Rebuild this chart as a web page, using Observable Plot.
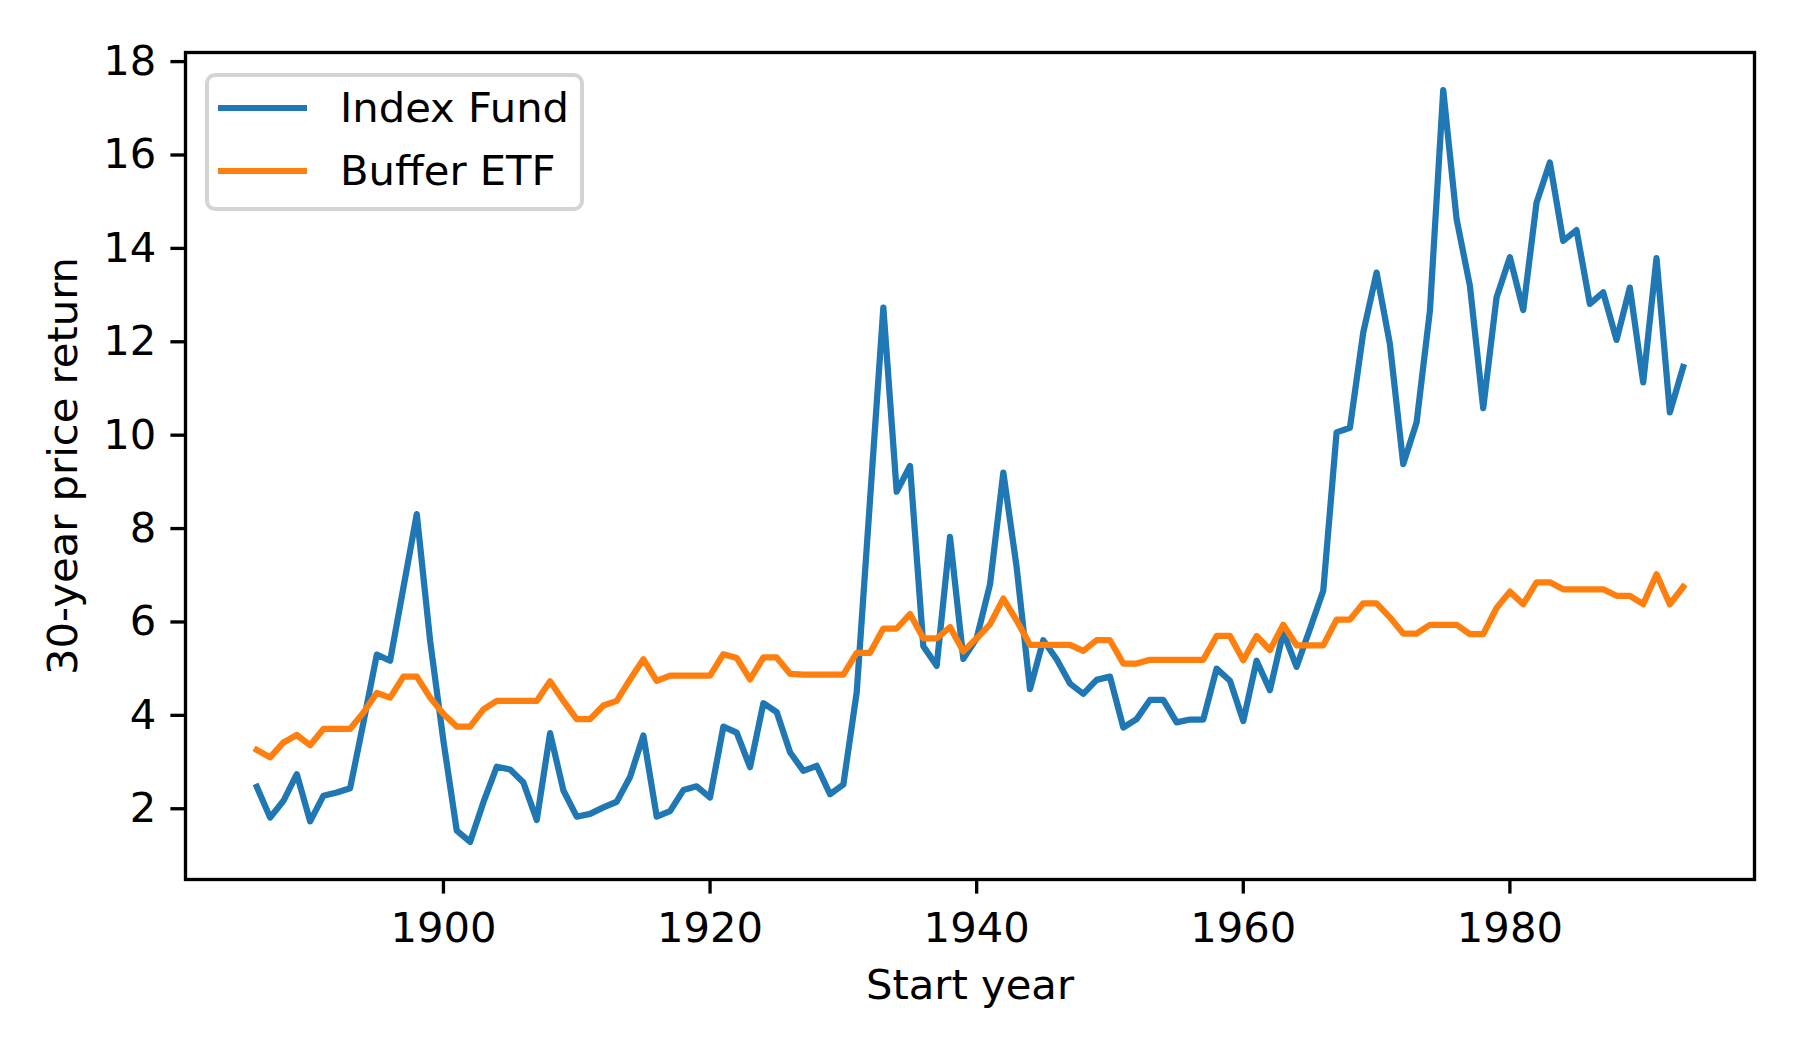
<!DOCTYPE html>
<html>
<head>
<meta charset="utf-8">
<script src="https://cdn.jsdelivr.net/npm/d3@7"></script>
<script src="https://cdn.jsdelivr.net/npm/@observablehq/plot@0.6"></script>
<style>
  html, body { margin: 0; padding: 0; background: white; }
  #wrap { position: relative; width: 1800px; height: 1050px; font-family: "DejaVu Sans", sans-serif; }
  #legend { position: absolute; left: 205px; top: 73px; width: 379px; height: 138px; box-sizing: border-box;
            border: 4px solid rgba(204,204,204,0.85); border-radius: 10px; background: rgba(255,255,255,0.8); }
  .row { position: absolute; left: 0; height: 50px; line-height: 50px; font-size: 41.7px; color: black; white-space: nowrap; }
  .sw { position: absolute; width: 89px; height: 6.25px; }
</style>
</head>
<body>
<div id="wrap"></div>
<script>
const startYear = 1886;
const endYear = 1993;
const years = d3.range(startYear, endYear + 1);
const seriesNames = ["Index Fund", "Buffer ETF"];
const seriesColors = ["#1f77b4", "#ff7f0e"];
const xTicks = [1900, 1920, 1940, 1960, 1980];
const yTicks = [2, 4, 6, 8, 10, 12, 14, 16, 18];
const xLabel = "Start year";
const yLabel = "30-year price return";

const indexFund = [
  2.47, 1.81, 2.17, 2.74, 1.73, 2.28, 2.35, 2.44, 3.85, 5.30,
  5.17, 6.74, 8.31, 5.60, 3.45, 1.53, 1.29, 2.14, 2.90, 2.84,
  2.56, 1.76, 3.62, 2.39, 1.83, 1.89, 2.03, 2.15, 2.68, 3.57,
  1.83, 1.95, 2.40, 2.48, 2.24, 3.76, 3.63, 2.89, 4.26, 4.07,
  3.21, 2.81, 2.92, 2.31, 2.52, 4.49, 8.61, 12.73, 8.79, 9.34,
  5.48, 5.06, 7.82, 5.21, 5.65, 6.80, 9.20, 7.17, 4.56, 5.61,
  5.20, 4.68, 4.46, 4.76, 4.83, 3.74, 3.92, 4.33, 4.33, 3.85,
  3.91, 3.91, 5.00, 4.74, 3.88, 5.17, 4.54, 5.78, 5.04, 5.85,
  6.67, 10.06, 10.16, 12.20, 13.48, 11.95, 9.38, 10.27, 12.66, 17.39,
  14.63, 13.20, 10.58, 12.95, 13.81, 12.68, 14.98, 15.84, 14.16, 14.39,
  12.81, 13.06, 12.04, 13.16, 11.13, 13.79, 10.49, 11.46
];
const bufferETF = [
  3.26, 3.10, 3.42, 3.58, 3.36, 3.71, 3.71, 3.71, 4.06, 4.48,
  4.38, 4.83, 4.83, 4.38, 4.03, 3.76, 3.76, 4.13, 4.31, 4.31,
  4.31, 4.31, 4.73, 4.31, 3.92, 3.92, 4.21, 4.31, 4.77, 5.20,
  4.74, 4.85, 4.85, 4.85, 4.85, 5.31, 5.23, 4.77, 5.24, 5.24,
  4.89, 4.87, 4.87, 4.87, 4.87, 5.34, 5.34, 5.86, 5.86, 6.17,
  5.65, 5.65, 5.89, 5.37, 5.65, 5.95, 6.50, 6.03, 5.51, 5.51,
  5.51, 5.51, 5.38, 5.61, 5.61, 5.11, 5.11, 5.19, 5.19, 5.19,
  5.19, 5.19, 5.70, 5.70, 5.18, 5.70, 5.40, 5.94, 5.50, 5.50,
  5.50, 6.05, 6.05, 6.40, 6.40, 6.10, 5.75, 5.75, 5.94, 5.94,
  5.94, 5.74, 5.74, 6.30, 6.65, 6.38, 6.85, 6.85, 6.70, 6.70,
  6.70, 6.70, 6.56, 6.56, 6.38, 7.02, 6.38, 6.75
];

const indexRows = years.map((year, i) => ({year, value: indexFund[i], series: seriesNames[0]}));
const bufferRows = years.map((year, i) => ({year, value: bufferETF[i], series: seriesNames[1]}));

// matplotlib-style 5% margins around the data range
const allVals = indexFund.concat(bufferETF);
const yMin = d3.min(allVals), yMax = d3.max(allVals);
const yPad = (yMax - yMin) * 0.05;
const xPad = (endYear - startYear) * 0.05;

const chart = Plot.plot({
  width: 1800,
  height: 1050,
  marginLeft: 185,
  marginRight: 46,
  marginTop: 52,
  marginBottom: 171,
  style: {fontFamily: "DejaVu Sans, sans-serif", fontSize: "41.7px", color: "black", background: "white", overflow: "visible"},
  x: {domain: [startYear - xPad, endYear + xPad]},
  y: {domain: [yMin - yPad, yMax + yPad]},
  marks: [
    Plot.line(indexRows, {x: "year", y: "value", stroke: seriesColors[0], strokeWidth: 6.25, strokeLinejoin: "round", strokeLinecap: "square"}),
    Plot.line(bufferRows, {x: "year", y: "value", stroke: seriesColors[1], strokeWidth: 6.25, strokeLinejoin: "round", strokeLinecap: "square"}),
    Plot.frame({stroke: "black", strokeWidth: 3.33}),
    Plot.axisX({ticks: xTicks, tickFormat: d => String(d), tickSize: 14.6, tickPadding: 18, strokeWidth: 3.33, label: null, fontSize: 41.7}),
    Plot.axisY({ticks: yTicks, tickFormat: d => String(d), tickSize: 14.6, tickPadding: 14.6, strokeWidth: 3.33, label: null, fontSize: 41.7}),
    Plot.text([xLabel], {text: d => d, frameAnchor: "bottom", lineAnchor: "middle", dy: 106, fontSize: 41.7, fill: "black"}),
    Plot.text([yLabel], {text: d => d, frameAnchor: "left", textAnchor: "middle", lineAnchor: "middle", dx: -122, rotate: -90, fontSize: 41.7, fill: "black"})
  ]
});

const wrap = document.getElementById("wrap");
wrap.appendChild(chart);

// legend
const legend = document.createElement("div");
legend.id = "legend";
wrap.appendChild(legend);
const rowY = [108, 171];
seriesNames.forEach((name, i) => {
  const sw = document.createElement("div");
  sw.className = "sw";
  sw.style.background = seriesColors[i];
  sw.style.left = (218 - 205 - 4) + "px";
  sw.style.top = (rowY[i] - 73 - 4 - 3.1) + "px";
  legend.appendChild(sw);
  const row = document.createElement("div");
  row.className = "row";
  row.textContent = name;
  row.style.left = (340 - 205 - 4) + "px";
  row.style.top = (rowY[i] - 73 - 4 - 25) + "px";
  legend.appendChild(row);
});
</script>
</body>
</html>
